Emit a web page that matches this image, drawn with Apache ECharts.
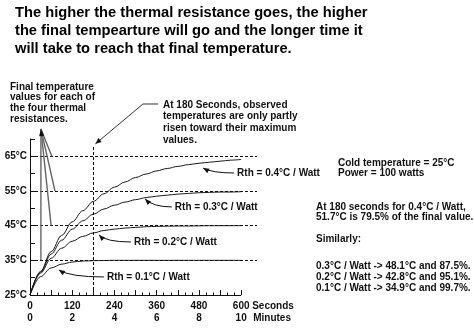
<!DOCTYPE html>
<html><head><meta charset="utf-8">
<script src="https://cdn.jsdelivr.net/npm/echarts@6/dist/echarts.min.js"></script>
<style>html,body{margin:0;padding:0;background:#fff}#c{width:474px;height:336px}</style>
</head><body><div id="c"></div>
<script>
// ---- data ----
const seconds = [0,30,60,90,120,150,180,210,240,270,300,330,360,390,420,450,480,510,540,570,600];
const rth04 = [25,31.8,37.5,42.2,46.1,49.3,52.0,54.2,56.1,57.6,58.9,59.9,60.8,61.5,62.1,62.6,63.0,63.3,63.6,63.9,64.1];
const rth03 = [25,31.6,36.8,40.8,44.0,46.4,48.3,49.8,50.9,51.8,52.5,53.1,53.5,53.8,54.1,54.3,54.5,54.6,54.7,54.7,54.8];
const rth02 = [25,31.3,35.6,38.5,40.5,41.9,42.9,43.6,44.0,44.3,44.5,44.7,44.8,44.85,44.9,44.9,44.95,45,45,45,45];
const rth01 = [25,30.3,32.8,33.9,34.5,34.8,34.9,34.95,35,35,35,35,35,35,35,35,35,35,35,35,35];
const finalTemps = [35,45,55,65];
const yLabelValues = [25,35,45,55,65];
const secondLabels = [0,120,240,360,480,600];
const majorTicks = [0,60,120,180,240,300,360,420,480,540,600];
const minorTicks = [0,20,40,60,80,100,120,140,160,180,200,220,240,260,280,300,320,340,360,380,400,420,440,460,480,500,520,540,560,580,600];
const markTime = 180;
const rthLabels = ['Rth = 0.4°C / Watt','Rth = 0.3°C / Watt','Rth = 0.2°C / Watt','Rth = 0.1°C / Watt'];
// annotation anchors in data units [seconds, °C]: tip, control, end
const leaders = [
  [[492,61.6],[517,60.2],[580,60.2]],
  [[327,52.7],[350,50.4],[403,50.4]],
  [[196,42.3],[216,40.3],[287,40.3]],
  [[82,32.2],[114,30.2],[210,30.2]]
];
const fanApex = [31,72.9];
const fanTargets = [[31,35],[60,45],[71,55],[62,65]];
const calloutPts = [[364,80.1],[321,80.1],[186,68.6]];

const F = '"Liberation Sans", Arial, sans-serif';
const fSmall = 'bold 10px ' + F;
const chart = echarts.init(document.getElementById('c'));
const pair = arr => seconds.map((s,i)=>[s,arr[i]]);
const curveStyle = {color:'#1a1a1a', width:1};
const mk = (name, arr, extra) => Object.assign({
  type:'line', name, data:pair(arr), smooth:0.35, smoothMonotone:'x', symbol:'none',
  lineStyle:curveStyle, itemStyle:{color:'#1a1a1a'}, silent:true, animation:false, clip:false, z:3
}, extra||{});

const dashed = {color:'#111', width:1, type:[3,2]};
chart.setOption({
  animation:false,
  backgroundColor:'#fff',
  grid:{left:30, top:139, width:227, height:156, containLabel:false},
  xAxis:[{
    type:'value', min:0, max:645, position:'bottom',
    axisLine:{show:false}, splitLine:{show:false},
    axisTick:{show:true, inside:true, length:5, customValues:majorTicks, lineStyle:{color:'#111'}},
    axisLabel:{customValues:secondLabels, margin:5, color:'#111', fontSize:10, fontWeight:'bold', fontFamily:F,
      lineHeight:12, formatter:v=>v+'\n'+(v/60)}
  },{
    type:'value', min:0, max:645, position:'bottom', gridIndex:0,
    axisLine:{show:false}, splitLine:{show:false}, axisLabel:{show:false},
    axisTick:{show:true, inside:true, length:2.5, customValues:minorTicks, lineStyle:{color:'#111'}}
  }],
  yAxis:{
    type:'value', min:25, max:70, interval:5,
    axisLine:{show:true, lineStyle:{color:'#111', width:1}},
    axisTick:{show:true, inside:true, length:5, lineStyle:{color:'#111'}},
    splitLine:{show:false},
    axisLabel:{customValues:yLabelValues, margin:3, color:'#111', fontSize:10, fontWeight:'bold', fontFamily:F, formatter:v=>v+'°C'}
  },
  series:[
    mk('0.4', rth04, {markLine:{silent:true, symbol:'none', animation:false, label:{show:false},
      data:[
        ...finalTemps.map(v=>({yAxis:v, lineStyle:dashed})),
        [{coord:[markTime,25], lineStyle:dashed},{coord:[markTime,68]}],
        [{coord:[0,25], lineStyle:{color:'#111', width:1, type:'solid'}},{coord:[600,25]}]
      ]}}),
    mk('0.3', rth03), mk('0.2', rth02), mk('0.1', rth01)
  ]
});

const P = p => chart.convertToPixel({gridIndex:0}, p);
function arrowHead(tip, from, len, hw, color){
  const dx = tip[0]-from[0], dy = tip[1]-from[1];
  const d = Math.hypot(dx,dy)||1, ux=dx/d, uy=dy/d;
  const bx = tip[0]-ux*len, by = tip[1]-uy*len;
  return {type:'polygon', silent:true, z:10, shape:{points:[tip,[bx-uy*hw,by+ux*hw],[bx+uy*hw,by-ux*hw]]}, style:{fill:color||'#111'}};
}
const g = [];
// title
g.push({type:'text', x:15, y:4, silent:true, style:{text:'The higher the thermal resistance goes, the higher\nthe final tempearture will go and the longer time it\nwill take to reach that final temperature.', font:'bold 14.7px '+F, fill:'#000', lineHeight:18, verticalAlign:'top'}});
g.push({type:'text', x:10, y:81.5, silent:true, style:{text:'Final temperature\nvalues for each of\nthe four thermal\nresistances.', font:fSmall, fill:'#111', lineHeight:10.7, verticalAlign:'top'}});
g.push({type:'text', x:163, y:99, silent:true, style:{text:'At 180 Seconds, observed\ntemperatures are only partly\nrisen toward their maximum\nvalues.', font:fSmall, fill:'#111', lineHeight:11.7, verticalAlign:'top'}});
g.push({type:'text', x:338, y:157.5, silent:true, style:{text:'Cold temperature = 25°C\nPower = 100 watts', font:fSmall, fill:'#111', lineHeight:10.7, verticalAlign:'top'}});
g.push({type:'text', x:316, y:201.5, silent:true, style:{text:'At 180 seconds for 0.4°C / Watt,\n51.7°C is 79.5% of the final value.', font:fSmall, fill:'#111', lineHeight:10.7, verticalAlign:'top'}});
g.push({type:'text', x:316, y:239, silent:true, style:{text:'Similarly:', font:fSmall, fill:'#111', verticalAlign:'middle'}});
g.push({type:'text', x:316, y:260.5, silent:true, style:{text:'0.3°C / Watt -> 48.1°C and 87.5%.\n0.2°C / Watt -> 42.8°C and 95.1%.\n0.1°C / Watt -> 34.9°C and 99.7%.', font:fSmall, fill:'#111', lineHeight:11, verticalAlign:'top'}});
// axis unit texts
const p600 = P([600,25]);
g.push({type:'text', x:p600[0]+11, y:p600[1]+11, silent:true, style:{text:'Seconds', font:fSmall, fill:'#111', verticalAlign:'middle'}});
g.push({type:'text', x:p600[0]+12, y:p600[1]+23, silent:true, style:{text:'Minutes', font:fSmall, fill:'#111', verticalAlign:'middle'}});
// Rth leaders
leaders.forEach((L,i)=>{
  const tip=P(L[0]), c=P(L[1]), e=P(L[2]);
  g.push({type:'bezierCurve', silent:true, z:9, shape:{x1:e[0],y1:e[1],x2:tip[0],y2:tip[1],cpx1:c[0],cpy1:c[1]}, style:{stroke:'#111', lineWidth:1, fill:null}});
  g.push(arrowHead(tip, c, 6, 2.5));
  g.push({type:'text', x:e[0]+3, y:e[1], silent:true, style:{text:rthLabels[i], font:fSmall, fill:'#111', verticalAlign:'middle'}});
});
// fan lines
const ap = P(fanApex);
fanTargets.forEach(t=>{
  const q=P(t);
  g.push({type:'line', silent:true, z:8, shape:{x1:ap[0],y1:ap[1],x2:q[0],y2:q[1]}, style:{stroke:'#666', lineWidth:1.4}});
});
g.push(arrowHead([ap[0],ap[1]], [ap[0]+1, ap[1]+10], 7, 2.5));
// callout
const cp = calloutPts.map(P);
g.push({type:'polyline', silent:true, z:9, shape:{points:cp}, style:{stroke:'#333', lineWidth:1, fill:null}});
g.push(arrowHead(cp[2], cp[1], 6, 2.5));
chart.setOption({graphic:g});
</script></body></html>
